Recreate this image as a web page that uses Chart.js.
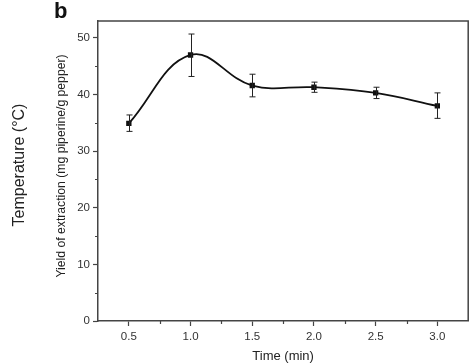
<!DOCTYPE html>
<html>
<head>
<meta charset="utf-8">
<script src="https://cdn.jsdelivr.net/npm/chart.js@4"></script>
<style>
    html, body { margin: 0; padding: 0; background: #fff; }
    #wrap { position: relative; width: 474px; height: 364px; }
    #panel { position: absolute; left: 54px; top: -2px; font: bold 22px "Liberation Sans", Arial, sans-serif; color: #111; }
    .vlabel {
        position: absolute;
        transform: translate(-50%, -50%) rotate(-90deg);
        font-family: "Liberation Sans", Arial, sans-serif; font-weight: normal;
        color: #222; white-space: nowrap; line-height: 1;
    }
    #temp { left: 19px; top: 165px; font-size: 16px; }
    #yieldTitle { left: 61px; top: 166px; font-size: 12.2px; }
</style>
</head>
<body>
<div id="wrap">
    <canvas id="yieldChart" width="474" height="364"></canvas>
    <div id="panel">b</div>
    <div id="temp" class="vlabel">Temperature (°C)</div>
    <div id="yieldTitle" class="vlabel">Yield of extraction (mg piperine/g pepper)</div>
</div>
<script>
const timeMin = [0.5, 1.0, 1.5, 2.0, 2.5, 3.0];
const yieldVals = [34.9, 47.0, 41.6, 41.3, 40.3, 38.0];
const errHigh = [36.4, 50.7, 43.6, 42.2, 41.3, 40.3];
const errLow = [33.5, 43.2, 39.6, 40.4, 39.3, 35.8];
const xTickLabels = ['0.5', '1.0', '1.5', '2.0', '2.5', '3.0'];
const yTickValues = [0, 10, 20, 30, 40, 50];
const xMinorTicks = [0.75, 1.25, 1.75, 2.25, 2.75];
const yMinorTicks = [5, 15, 25, 35, 45];

const axisColor = '#444';
const tickFont = { family: '"Liberation Sans", Arial, sans-serif', size: 11.5 };

// error bars, minor ticks and the top/right frame
const errorBarPlugin = {
    id: 'errorBars',
    afterDatasetsDraw: function(chart) {
        const ctx = chart.ctx;
        const xs = chart.scales.x;
        const ys = chart.scales.y;
        const a = chart.chartArea;
        ctx.save();
        ctx.strokeStyle = '#222';
        ctx.lineWidth = 1;
        timeMin.forEach(function(t, i) {
            const px = Math.round(xs.getPixelForValue(t)) + 0.5;
            const top = ys.getPixelForValue(errHigh[i]);
            const bot = ys.getPixelForValue(errLow[i]);
            ctx.beginPath();
            ctx.moveTo(px, top); ctx.lineTo(px, bot);
            ctx.moveTo(px - 3, top); ctx.lineTo(px + 3, top);
            ctx.moveTo(px - 3, bot); ctx.lineTo(px + 3, bot);
            ctx.stroke();
        });

        ctx.strokeStyle = axisColor;
        ctx.lineWidth = 1.2;
        ctx.beginPath();
        xMinorTicks.forEach(function(v) {
            const px = Math.round(xs.getPixelForValue(v)) + 0.5;
            ctx.moveTo(px, a.bottom); ctx.lineTo(px, a.bottom + 3);
        });
        yMinorTicks.forEach(function(v) {
            const py = Math.round(ys.getPixelForValue(v)) + 0.5;
            ctx.moveTo(a.left, py); ctx.lineTo(a.left - 3, py);
        });
        ctx.stroke();

        ctx.lineWidth = 1.5;
        ctx.beginPath();
        ctx.moveTo(a.left, a.top); ctx.lineTo(a.right, a.top); ctx.lineTo(a.right, a.bottom);
        ctx.stroke();
        ctx.restore();
    }
};

new Chart(document.getElementById('yieldChart'), {
    type: 'line',
    data: {
        datasets: [{
            data: timeMin.map(function(t, i) { return { x: t, y: yieldVals[i] }; }),
            borderColor: '#111',
            borderWidth: 1.8,
            tension: 0.4,
            pointStyle: 'rect',
            pointRadius: 2.5,
            pointBackgroundColor: '#111',
            pointBorderColor: '#111',
            fill: false
        }]
    },
    options: {
        responsive: false,
        animation: false,
        layout: { padding: { left: 0, top: 21, right: 3, bottom: 0 } },
        plugins: { legend: { display: false }, tooltip: { enabled: false } },
        scales: {
            x: {
                type: 'linear',
                min: 0.25,
                max: 3.25,
                afterFit: function(scale) { scale.height = 43; },
                afterBuildTicks: function(scale) {
                    scale.ticks = timeMin.map(function(v) { return { value: v }; });
                },
                ticks: {
                    autoSkip: false,
                    maxRotation: 0,
                    color: '#333',
                    font: tickFont,
                    padding: 4,
                    callback: function(value) {
                        const idx = timeMin.indexOf(value);
                        return idx >= 0 ? xTickLabels[idx] : '';
                    }
                },
                grid: { drawOnChartArea: false, drawTicks: true, tickLength: 5, color: axisColor, tickWidth: 1.2 },
                border: { color: axisColor, width: 1.5 },
                title: {
                    display: true,
                    text: 'Time (min)',
                    color: '#222',
                    font: { family: '"Liberation Sans", Arial, sans-serif', size: 13 },
                    padding: { top: 0, bottom: 0 }
                }
            },
            y: {
                min: 0,
                max: 53,
                afterFit: function(scale) { scale.width = 98; },
                afterBuildTicks: function(scale) {
                    scale.ticks = yTickValues.map(function(v) { return { value: v }; });
                },
                ticks: {
                    color: '#333',
                    font: tickFont,
                    padding: 3,
                    callback: function(value) { return String(value); }
                },
                grid: { drawOnChartArea: false, drawTicks: true, tickLength: 5, color: axisColor, tickWidth: 1.2 },
                border: { color: axisColor, width: 1.5 }
            }
        }
    },
    plugins: [errorBarPlugin]
});
</script>
</body>
</html>
